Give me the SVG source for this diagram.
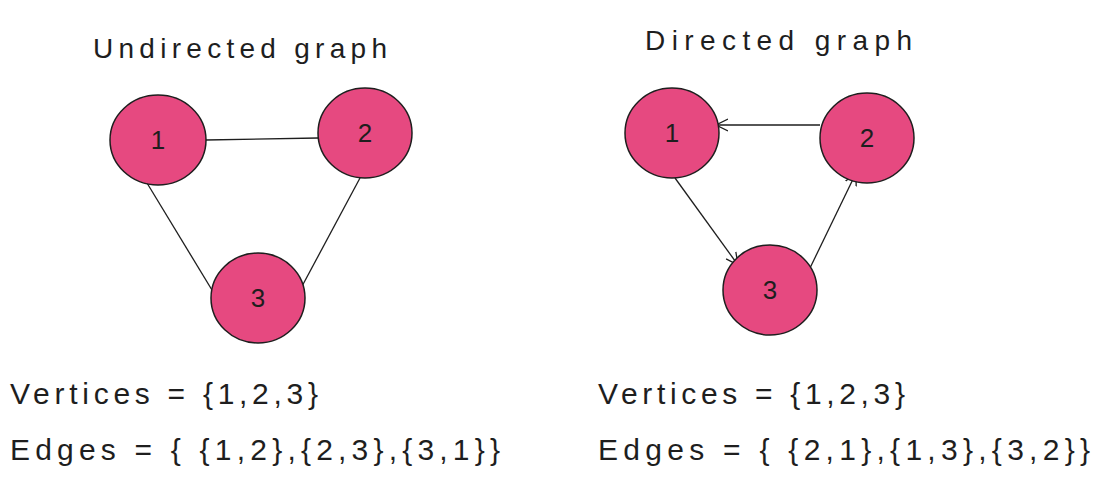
<svg xmlns="http://www.w3.org/2000/svg" width="1103" height="485" viewBox="0 0 1103 485">
<style>
.n{fill:#e64980;stroke:#1e1e1e;stroke-width:1.5}
.t{font-family:"Liberation Sans",sans-serif;fill:#1e1e1e}
.l{font-size:26px;text-anchor:middle}
.h{font-size:28px}
.b{font-size:30px}
.e{stroke:#1e1e1e;stroke-width:1.3;fill:none}
</style>
<defs><marker id="a" markerWidth="14" markerHeight="14" refX="12" refY="7" orient="auto" markerUnits="userSpaceOnUse"><path d="M0,1 L12,7 L0,13" class="e"/></marker></defs>
<rect width="1103" height="485" fill="#fff"/>
<text class="t h" x="93" y="58" textLength="294" lengthAdjust="spacing">Undirected graph</text>
<text class="t h" x="645" y="50" textLength="267" lengthAdjust="spacing">Directed graph</text>
<g id="edges">
<line class="e" x1="206" y1="140" x2="318" y2="138"/>
<line class="e" x1="147" y1="183" x2="215" y2="295"/>
<line class="e" x1="360" y1="178" x2="300" y2="290"/>
<line class="e" x1="820" y1="125" x2="716" y2="125" marker-end="url(#a)"/>
<line class="e" x1="675" y1="178" x2="738" y2="265" marker-end="url(#a)"/>
<line class="e" x1="810" y1="268" x2="856" y2="173" marker-end="url(#a)"/>
</g>
<g id="u1"><ellipse class="n" cx="158" cy="140" rx="48" ry="45"/><text class="t l" x="158" y="149">1</text></g>
<g id="u2"><ellipse class="n" cx="365" cy="133" rx="47" ry="45"/><text class="t l" x="365" y="142">2</text></g>
<g id="u3"><ellipse class="n" cx="258" cy="298" rx="47" ry="45"/><text class="t l" x="258" y="307">3</text></g>
<g id="d1"><ellipse class="n" cx="672" cy="133" rx="47" ry="45"/><text class="t l" x="672" y="142">1</text></g>
<g id="d2"><ellipse class="n" cx="867" cy="138" rx="47" ry="45"/><text class="t l" x="867" y="147">2</text></g>
<g id="d3"><ellipse class="n" cx="770" cy="290" rx="47" ry="45"/><text class="t l" x="770" y="299">3</text></g>
<text class="t b" x="10" y="404" textLength="308" lengthAdjust="spacing">Vertices = {1,2,3}</text>
<text class="t b" x="10" y="460" textLength="490" lengthAdjust="spacing">Edges = { {1,2},{2,3},{3,1}}</text>
<text class="t b" x="598" y="404" textLength="307" lengthAdjust="spacing">Vertices = {1,2,3}</text>
<text class="t b" x="598" y="460" textLength="492" lengthAdjust="spacing">Edges = { {2,1},{1,3},{3,2}}</text>
</svg>
